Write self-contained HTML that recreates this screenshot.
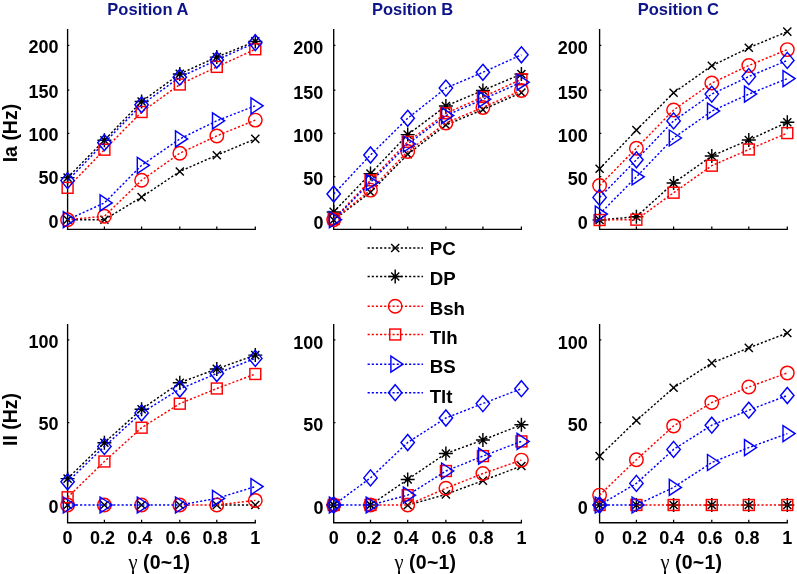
<!DOCTYPE html>
<html><head><meta charset="utf-8"><title>Figure</title>
<style>html,body{margin:0;padding:0;background:#fff}svg{display:block}.b{font-family:"Liberation Sans",Arial,Helvetica,sans-serif;font-weight:bold}.g{font-family:"Liberation Serif","DejaVu Serif",serif}</style></head>
<body>
<svg width="797" height="574" viewBox="0 0 797 574">
<rect width="797" height="574" fill="#fff"/>
<g id="plotA">
<path d="M67.60 29.00V229.40H255.90" stroke="#000" stroke-width="1.35" fill="none" stroke-linejoin="miter"/>
<path d="M104.40 229.40v-3.0M141.60 229.40v-3.0M179.80 229.40v-3.0M216.80 229.40v-3.0M255.30 229.40v-3.0M67.60 220.20h1.7M67.60 176.50h1.7M67.60 133.40h1.7M67.60 90.00h1.7M67.60 45.40h1.7" stroke="#000" stroke-width="1.25" fill="none"/>
<text x="58.5" y="227.8" text-anchor="end" font-size="18" class="b">0</text>
<text x="58.5" y="184.1" text-anchor="end" font-size="18" class="b">50</text>
<text x="58.5" y="141.0" text-anchor="end" font-size="18" class="b">100</text>
<text x="58.5" y="97.6" text-anchor="end" font-size="18" class="b">150</text>
<text x="58.5" y="53.0" text-anchor="end" font-size="18" class="b">200</text>
<g stroke-width="1.45" fill="none">
<polyline points="67.60,219.70 104.40,219.70 141.60,197.10 179.80,171.50 216.80,155.20 255.30,138.90" stroke="#000" stroke-dasharray="2.15 2"/>
<path d="M63.55 215.65L71.65 223.75M63.55 223.75L71.65 215.65" stroke="#000" fill="none"/>
<path d="M100.35 215.65L108.45 223.75M100.35 223.75L108.45 215.65" stroke="#000" fill="none"/>
<path d="M137.55 193.05L145.65 201.15M137.55 201.15L145.65 193.05" stroke="#000" fill="none"/>
<path d="M175.75 167.45L183.85 175.55M175.75 175.55L183.85 167.45" stroke="#000" fill="none"/>
<path d="M212.75 151.15L220.85 159.25M212.75 159.25L220.85 151.15" stroke="#000" fill="none"/>
<path d="M251.25 134.85L259.35 142.95M251.25 142.95L259.35 134.85" stroke="#000" fill="none"/>
<polyline points="67.60,177.60 104.40,140.20 141.60,101.50 179.80,73.90 216.80,57.10 255.30,41.40" stroke="#000" stroke-dasharray="2.15 2"/>
<path d="M63.55 173.55L71.65 181.65M63.55 181.65L71.65 173.55M60.6 177.6H74.6M67.6 170.6V184.6" stroke="#000" fill="none"/>
<path d="M100.35 136.15L108.45 144.25M100.35 144.25L108.45 136.15M97.4 140.2H111.4M104.4 133.2V147.2" stroke="#000" fill="none"/>
<path d="M137.55 97.45L145.65 105.55M137.55 105.55L145.65 97.45M134.6 101.5H148.6M141.6 94.5V108.5" stroke="#000" fill="none"/>
<path d="M175.75 69.85L183.85 77.95M175.75 77.95L183.85 69.85M172.8 73.9H186.8M179.8 66.9V80.9" stroke="#000" fill="none"/>
<path d="M212.75 53.05L220.85 61.15M212.75 61.15L220.85 53.05M209.8 57.1H223.8M216.8 50.1V64.1" stroke="#000" fill="none"/>
<path d="M251.25 37.35L259.35 45.45M251.25 45.45L259.35 37.35M248.3 41.4H262.3M255.3 34.4V48.4" stroke="#000" fill="none"/>
<polyline points="67.60,219.70 104.40,216.20 141.60,180.30 179.80,153.20 216.80,135.90 255.30,120.10" stroke="#f00" stroke-dasharray="2.15 2"/>
<circle cx="67.6" cy="219.7" r="6.75" stroke="#f00" fill="none"/>
<circle cx="104.4" cy="216.2" r="6.75" stroke="#f00" fill="none"/>
<circle cx="141.6" cy="180.3" r="6.75" stroke="#f00" fill="none"/>
<circle cx="179.8" cy="153.2" r="6.75" stroke="#f00" fill="none"/>
<circle cx="216.8" cy="135.9" r="6.75" stroke="#f00" fill="none"/>
<circle cx="255.3" cy="120.1" r="6.75" stroke="#f00" fill="none"/>
<polyline points="67.60,187.80 104.40,149.70 141.60,112.00 179.80,84.50 216.80,66.90 255.30,49.30" stroke="#f00" stroke-dasharray="2.15 2"/>
<rect x="62.15" y="182.35" width="10.9" height="10.9" stroke="#f00" fill="none"/>
<rect x="98.95" y="144.25" width="10.9" height="10.9" stroke="#f00" fill="none"/>
<rect x="136.15" y="106.55" width="10.9" height="10.9" stroke="#f00" fill="none"/>
<rect x="174.35" y="79.05" width="10.9" height="10.9" stroke="#f00" fill="none"/>
<rect x="211.35" y="61.45" width="10.9" height="10.9" stroke="#f00" fill="none"/>
<rect x="249.85" y="43.85" width="10.9" height="10.9" stroke="#f00" fill="none"/>
<polyline points="67.60,219.70 104.40,202.90 141.60,165.30 179.80,138.90 216.80,120.80 255.30,105.80" stroke="#00f" stroke-dasharray="2.15 2"/>
<path d="M63.3 211.7L75.4 219.7L63.3 227.7Z" stroke="#00f" fill="none"/>
<path d="M100.1 194.9L112.2 202.9L100.1 210.9Z" stroke="#00f" fill="none"/>
<path d="M137.3 157.3L149.4 165.3L137.3 173.3Z" stroke="#00f" fill="none"/>
<path d="M175.5 130.9L187.6 138.9L175.5 146.9Z" stroke="#00f" fill="none"/>
<path d="M212.5 112.8L224.6 120.8L212.5 128.8Z" stroke="#00f" fill="none"/>
<path d="M251 97.8L263.1 105.8L251 113.8Z" stroke="#00f" fill="none"/>
<polyline points="67.60,180.60 104.40,142.70 141.60,104.80 179.80,77.20 216.80,60.00 255.30,42.70" stroke="#00f" stroke-dasharray="2.15 2"/>
<path d="M67.6 172.6L74.3 180.6L67.6 188.6L60.9 180.6Z" stroke="#00f" fill="none"/>
<path d="M104.4 134.7L111.1 142.7L104.4 150.7L97.7 142.7Z" stroke="#00f" fill="none"/>
<path d="M141.6 96.8L148.3 104.8L141.6 112.8L134.9 104.8Z" stroke="#00f" fill="none"/>
<path d="M179.8 69.2L186.5 77.2L179.8 85.2L173.1 77.2Z" stroke="#00f" fill="none"/>
<path d="M216.8 52L223.5 60L216.8 68L210.1 60Z" stroke="#00f" fill="none"/>
<path d="M255.3 34.7L262 42.7L255.3 50.7L248.6 42.7Z" stroke="#00f" fill="none"/>
</g>
</g>
<g id="plotB">
<path d="M333.70 29.00V229.40H522.00" stroke="#000" stroke-width="1.35" fill="none" stroke-linejoin="miter"/>
<path d="M370.50 229.40v-3.0M407.70 229.40v-3.0M445.90 229.40v-3.0M482.90 229.40v-3.0M521.40 229.40v-3.0M333.70 220.20h1.7M333.70 176.50h1.7M333.70 133.40h1.7M333.70 90.00h1.7M333.70 45.40h1.7" stroke="#000" stroke-width="1.25" fill="none"/>
<text x="323.4" y="229.0" text-anchor="end" font-size="18" class="b">0</text>
<text x="323.4" y="185.3" text-anchor="end" font-size="18" class="b">50</text>
<text x="323.4" y="142.2" text-anchor="end" font-size="18" class="b">100</text>
<text x="323.4" y="98.8" text-anchor="end" font-size="18" class="b">150</text>
<text x="323.4" y="54.2" text-anchor="end" font-size="18" class="b">200</text>
<g stroke-width="1.45" fill="none">
<polyline points="333.70,220.00 370.50,192.30 407.70,154.30 445.90,125.00 482.90,109.60 521.40,92.60" stroke="#000" stroke-dasharray="2.15 2"/>
<path d="M329.65 215.95L337.75 224.05M329.65 224.05L337.75 215.95" stroke="#000" fill="none"/>
<path d="M366.45 188.25L374.55 196.35M366.45 196.35L374.55 188.25" stroke="#000" fill="none"/>
<path d="M403.65 150.25L411.75 158.35M403.65 158.35L411.75 150.25" stroke="#000" fill="none"/>
<path d="M441.85 120.95L449.95 129.05M441.85 129.05L449.95 120.95" stroke="#000" fill="none"/>
<path d="M478.85 105.55L486.95 113.65M478.85 113.65L486.95 105.55" stroke="#000" fill="none"/>
<path d="M517.35 88.55L525.45 96.65M517.35 96.65L525.45 88.55" stroke="#000" fill="none"/>
<polyline points="333.70,211.90 370.50,173.60 407.70,134.60 445.90,106.00 482.90,90.40 521.40,74.10" stroke="#000" stroke-dasharray="2.15 2"/>
<path d="M329.65 207.85L337.75 215.95M329.65 215.95L337.75 207.85M326.7 211.9H340.7M333.7 204.9V218.9" stroke="#000" fill="none"/>
<path d="M366.45 169.55L374.55 177.65M366.45 177.65L374.55 169.55M363.5 173.6H377.5M370.5 166.6V180.6" stroke="#000" fill="none"/>
<path d="M403.65 130.55L411.75 138.65M403.65 138.65L411.75 130.55M400.7 134.6H414.7M407.7 127.6V141.6" stroke="#000" fill="none"/>
<path d="M441.85 101.95L449.95 110.05M441.85 110.05L449.95 101.95M438.9 106H452.9M445.9 99V113" stroke="#000" fill="none"/>
<path d="M478.85 86.35L486.95 94.45M478.85 94.45L486.95 86.35M475.9 90.4H489.9M482.9 83.4V97.4" stroke="#000" fill="none"/>
<path d="M517.35 70.05L525.45 78.15M517.35 78.15L525.45 70.05M514.4 74.1H528.4M521.4 67.1V81.1" stroke="#000" fill="none"/>
<polyline points="333.70,219.70 370.50,190.10 407.70,151.50 445.90,123.00 482.90,107.40 521.40,90.40" stroke="#f00" stroke-dasharray="2.15 2"/>
<circle cx="333.7" cy="219.7" r="6.75" stroke="#f00" fill="none"/>
<circle cx="370.5" cy="190.1" r="6.75" stroke="#f00" fill="none"/>
<circle cx="407.7" cy="151.5" r="6.75" stroke="#f00" fill="none"/>
<circle cx="445.9" cy="123" r="6.75" stroke="#f00" fill="none"/>
<circle cx="482.9" cy="107.4" r="6.75" stroke="#f00" fill="none"/>
<circle cx="521.4" cy="90.4" r="6.75" stroke="#f00" fill="none"/>
<polyline points="333.70,219.00 370.50,180.30 407.70,141.80 445.90,113.30 482.90,97.00 521.40,79.30" stroke="#f00" stroke-dasharray="2.15 2"/>
<rect x="328.25" y="213.55" width="10.9" height="10.9" stroke="#f00" fill="none"/>
<rect x="365.05" y="174.85" width="10.9" height="10.9" stroke="#f00" fill="none"/>
<rect x="402.25" y="136.35" width="10.9" height="10.9" stroke="#f00" fill="none"/>
<rect x="440.45" y="107.85" width="10.9" height="10.9" stroke="#f00" fill="none"/>
<rect x="477.45" y="91.55" width="10.9" height="10.9" stroke="#f00" fill="none"/>
<rect x="515.95" y="73.85" width="10.9" height="10.9" stroke="#f00" fill="none"/>
<polyline points="333.70,219.70 370.50,182.40 407.70,144.00 445.90,115.60 482.90,99.30 521.40,82.20" stroke="#00f" stroke-dasharray="2.15 2"/>
<path d="M329.4 211.7L341.5 219.7L329.4 227.7Z" stroke="#00f" fill="none"/>
<path d="M366.2 174.4L378.3 182.4L366.2 190.4Z" stroke="#00f" fill="none"/>
<path d="M403.4 136L415.5 144L403.4 152Z" stroke="#00f" fill="none"/>
<path d="M441.6 107.6L453.7 115.6L441.6 123.6Z" stroke="#00f" fill="none"/>
<path d="M478.6 91.3L490.7 99.3L478.6 107.3Z" stroke="#00f" fill="none"/>
<path d="M517.1 74.2L529.2 82.2L517.1 90.2Z" stroke="#00f" fill="none"/>
<polyline points="333.70,194.00 370.50,155.00 407.70,118.30 445.90,88.10 482.90,72.30 521.40,54.80" stroke="#00f" stroke-dasharray="2.15 2"/>
<path d="M333.7 186L340.4 194L333.7 202L327 194Z" stroke="#00f" fill="none"/>
<path d="M370.5 147L377.2 155L370.5 163L363.8 155Z" stroke="#00f" fill="none"/>
<path d="M407.7 110.3L414.4 118.3L407.7 126.3L401 118.3Z" stroke="#00f" fill="none"/>
<path d="M445.9 80.1L452.6 88.1L445.9 96.1L439.2 88.1Z" stroke="#00f" fill="none"/>
<path d="M482.9 64.3L489.6 72.3L482.9 80.3L476.2 72.3Z" stroke="#00f" fill="none"/>
<path d="M521.4 46.8L528.1 54.8L521.4 62.8L514.7 54.8Z" stroke="#00f" fill="none"/>
</g>
</g>
<g id="plotC">
<path d="M599.60 29.00V229.40H787.90" stroke="#000" stroke-width="1.35" fill="none" stroke-linejoin="miter"/>
<path d="M636.40 229.40v-3.0M673.60 229.40v-3.0M711.80 229.40v-3.0M748.80 229.40v-3.0M787.30 229.40v-3.0M599.60 220.20h1.7M599.60 176.50h1.7M599.60 133.40h1.7M599.60 90.00h1.7M599.60 45.40h1.7" stroke="#000" stroke-width="1.25" fill="none"/>
<text x="587.8" y="229.0" text-anchor="end" font-size="18" class="b">0</text>
<text x="587.8" y="185.3" text-anchor="end" font-size="18" class="b">50</text>
<text x="587.8" y="142.2" text-anchor="end" font-size="18" class="b">100</text>
<text x="587.8" y="98.8" text-anchor="end" font-size="18" class="b">150</text>
<text x="587.8" y="54.2" text-anchor="end" font-size="18" class="b">200</text>
<g stroke-width="1.45" fill="none">
<polyline points="599.60,168.80 636.40,130.10 673.60,92.80 711.80,65.80 748.80,47.80 787.30,31.60" stroke="#000" stroke-dasharray="2.15 2"/>
<path d="M595.55 164.75L603.65 172.85M595.55 172.85L603.65 164.75" stroke="#000" fill="none"/>
<path d="M632.35 126.05L640.45 134.15M632.35 134.15L640.45 126.05" stroke="#000" fill="none"/>
<path d="M669.55 88.75L677.65 96.85M669.55 96.85L677.65 88.75" stroke="#000" fill="none"/>
<path d="M707.75 61.75L715.85 69.85M707.75 69.85L715.85 61.75" stroke="#000" fill="none"/>
<path d="M744.75 43.75L752.85 51.85M744.75 51.85L752.85 43.75" stroke="#000" fill="none"/>
<path d="M783.25 27.55L791.35 35.65M783.25 35.65L791.35 27.55" stroke="#000" fill="none"/>
<polyline points="599.60,220.00 636.40,216.70 673.60,183.00 711.80,156.00 748.80,140.00 787.30,122.20" stroke="#000" stroke-dasharray="2.15 2"/>
<path d="M595.55 215.95L603.65 224.05M595.55 224.05L603.65 215.95M592.6 220H606.6M599.6 213V227" stroke="#000" fill="none"/>
<path d="M632.35 212.65L640.45 220.75M632.35 220.75L640.45 212.65M629.4 216.7H643.4M636.4 209.7V223.7" stroke="#000" fill="none"/>
<path d="M669.55 178.95L677.65 187.05M669.55 187.05L677.65 178.95M666.6 183H680.6M673.6 176V190" stroke="#000" fill="none"/>
<path d="M707.75 151.95L715.85 160.05M707.75 160.05L715.85 151.95M704.8 156H718.8M711.8 149V163" stroke="#000" fill="none"/>
<path d="M744.75 135.95L752.85 144.05M744.75 144.05L752.85 135.95M741.8 140H755.8M748.8 133V147" stroke="#000" fill="none"/>
<path d="M783.25 118.15L791.35 126.25M783.25 126.25L791.35 118.15M780.3 122.2H794.3M787.3 115.2V129.2" stroke="#000" fill="none"/>
<polyline points="599.60,185.50 636.40,148.20 673.60,110.00 711.80,83.00 748.80,65.50 787.30,49.60" stroke="#f00" stroke-dasharray="2.15 2"/>
<circle cx="599.6" cy="185.5" r="6.75" stroke="#f00" fill="none"/>
<circle cx="636.4" cy="148.2" r="6.75" stroke="#f00" fill="none"/>
<circle cx="673.6" cy="110" r="6.75" stroke="#f00" fill="none"/>
<circle cx="711.8" cy="83" r="6.75" stroke="#f00" fill="none"/>
<circle cx="748.8" cy="65.5" r="6.75" stroke="#f00" fill="none"/>
<circle cx="787.3" cy="49.6" r="6.75" stroke="#f00" fill="none"/>
<polyline points="599.60,220.00 636.40,219.70 673.60,192.70 711.80,165.70 748.80,149.50 787.30,133.10" stroke="#f00" stroke-dasharray="2.15 2"/>
<rect x="594.15" y="214.55" width="10.9" height="10.9" stroke="#f00" fill="none"/>
<rect x="630.95" y="214.25" width="10.9" height="10.9" stroke="#f00" fill="none"/>
<rect x="668.15" y="187.25" width="10.9" height="10.9" stroke="#f00" fill="none"/>
<rect x="706.35" y="160.25" width="10.9" height="10.9" stroke="#f00" fill="none"/>
<rect x="743.35" y="144.05" width="10.9" height="10.9" stroke="#f00" fill="none"/>
<rect x="781.85" y="127.65" width="10.9" height="10.9" stroke="#f00" fill="none"/>
<polyline points="599.60,214.10 636.40,176.80 673.60,138.00 711.80,111.10 748.80,94.10 787.30,78.60" stroke="#00f" stroke-dasharray="2.15 2"/>
<path d="M595.3 206.1L607.4 214.1L595.3 222.1Z" stroke="#00f" fill="none"/>
<path d="M632.1 168.8L644.2 176.8L632.1 184.8Z" stroke="#00f" fill="none"/>
<path d="M669.3 130L681.4 138L669.3 146Z" stroke="#00f" fill="none"/>
<path d="M707.5 103.1L719.6 111.1L707.5 119.1Z" stroke="#00f" fill="none"/>
<path d="M744.5 86.1L756.6 94.1L744.5 102.1Z" stroke="#00f" fill="none"/>
<path d="M783 70.6L795.1 78.6L783 86.6Z" stroke="#00f" fill="none"/>
<polyline points="599.60,197.40 636.40,159.80 673.60,120.90 711.80,94.10 748.80,76.60 787.30,60.40" stroke="#00f" stroke-dasharray="2.15 2"/>
<path d="M599.6 189.4L606.3 197.4L599.6 205.4L592.9 197.4Z" stroke="#00f" fill="none"/>
<path d="M636.4 151.8L643.1 159.8L636.4 167.8L629.7 159.8Z" stroke="#00f" fill="none"/>
<path d="M673.6 112.9L680.3 120.9L673.6 128.9L666.9 120.9Z" stroke="#00f" fill="none"/>
<path d="M711.8 86.1L718.5 94.1L711.8 102.1L705.1 94.1Z" stroke="#00f" fill="none"/>
<path d="M748.8 68.6L755.5 76.6L748.8 84.6L742.1 76.6Z" stroke="#00f" fill="none"/>
<path d="M787.3 52.4L794 60.4L787.3 68.4L780.6 60.4Z" stroke="#00f" fill="none"/>
</g>
</g>
<g id="plotD">
<path d="M67.60 323.90V522.75H255.90" stroke="#000" stroke-width="1.35" fill="none" stroke-linejoin="miter"/>
<path d="M104.40 522.75v-3.0M141.60 522.75v-3.0M179.80 522.75v-3.0M216.80 522.75v-3.0M255.30 522.75v-3.0M67.60 505.00h1.7M67.60 422.50h1.7M67.60 339.90h1.7" stroke="#000" stroke-width="1.25" fill="none"/>
<text x="58.5" y="512.6" text-anchor="end" font-size="18" class="b">0</text>
<text x="58.5" y="430.1" text-anchor="end" font-size="18" class="b">50</text>
<text x="58.5" y="347.5" text-anchor="end" font-size="18" class="b">100</text>
<g stroke-width="1.45" fill="none">
<polyline points="216.80,505.00 255.30,505.00" stroke="#000" stroke-dasharray="2.15 2" stroke-dashoffset="3.95"/>
<path d="M63.55 500.95L71.65 509.05M63.55 509.05L71.65 500.95" stroke="#000" fill="none"/>
<path d="M100.35 500.95L108.45 509.05M100.35 509.05L108.45 500.95" stroke="#000" fill="none"/>
<path d="M137.55 500.95L145.65 509.05M137.55 509.05L145.65 500.95" stroke="#000" fill="none"/>
<path d="M175.75 500.95L183.85 509.05M175.75 509.05L183.85 500.95" stroke="#000" fill="none"/>
<path d="M212.75 500.95L220.85 509.05M212.75 509.05L220.85 500.95" stroke="#000" fill="none"/>
<path d="M251.25 500.95L259.35 509.05M251.25 509.05L259.35 500.95" stroke="#000" fill="none"/>
<polyline points="67.60,478.60 104.40,442.70 141.60,409.20 179.80,382.70 216.80,368.90 255.30,355.10" stroke="#000" stroke-dasharray="2.15 2"/>
<path d="M63.55 474.55L71.65 482.65M63.55 482.65L71.65 474.55M60.6 478.6H74.6M67.6 471.6V485.6" stroke="#000" fill="none"/>
<path d="M100.35 438.65L108.45 446.75M100.35 446.75L108.45 438.65M97.4 442.7H111.4M104.4 435.7V449.7" stroke="#000" fill="none"/>
<path d="M137.55 405.15L145.65 413.25M137.55 413.25L145.65 405.15M134.6 409.2H148.6M141.6 402.2V416.2" stroke="#000" fill="none"/>
<path d="M175.75 378.65L183.85 386.75M175.75 386.75L183.85 378.65M172.8 382.7H186.8M179.8 375.7V389.7" stroke="#000" fill="none"/>
<path d="M212.75 364.85L220.85 372.95M212.75 372.95L220.85 364.85M209.8 368.9H223.8M216.8 361.9V375.9" stroke="#000" fill="none"/>
<path d="M251.25 351.05L259.35 359.15M251.25 359.15L259.35 351.05M248.3 355.1H262.3M255.3 348.1V362.1" stroke="#000" fill="none"/>
<polyline points="179.80,505.00 216.80,505.00 255.30,500.40" stroke="#f00" stroke-dasharray="2.15 2" stroke-dashoffset="0.15"/>
<circle cx="67.6" cy="505" r="6.75" stroke="#f00" fill="none"/>
<circle cx="104.4" cy="505" r="6.75" stroke="#f00" fill="none"/>
<circle cx="141.6" cy="505" r="6.75" stroke="#f00" fill="none"/>
<circle cx="179.8" cy="505" r="6.75" stroke="#f00" fill="none"/>
<circle cx="216.8" cy="505" r="6.75" stroke="#f00" fill="none"/>
<circle cx="255.3" cy="500.4" r="6.75" stroke="#f00" fill="none"/>
<polyline points="67.60,497.30 104.40,461.50 141.60,427.70 179.80,403.70 216.80,388.50 255.30,374.00" stroke="#f00" stroke-dasharray="2.15 2"/>
<rect x="62.15" y="491.85" width="10.9" height="10.9" stroke="#f00" fill="none"/>
<rect x="98.95" y="456.05" width="10.9" height="10.9" stroke="#f00" fill="none"/>
<rect x="136.15" y="422.25" width="10.9" height="10.9" stroke="#f00" fill="none"/>
<rect x="174.35" y="398.25" width="10.9" height="10.9" stroke="#f00" fill="none"/>
<rect x="211.35" y="383.05" width="10.9" height="10.9" stroke="#f00" fill="none"/>
<rect x="249.85" y="368.55" width="10.9" height="10.9" stroke="#f00" fill="none"/>
<polyline points="67.60,505.00 104.40,505.00 141.60,505.00 179.80,505.00 216.80,498.40 255.30,486.60" stroke="#00f" stroke-dasharray="2.15 2"/>
<path d="M63.3 497L75.4 505L63.3 513Z" stroke="#00f" fill="none"/>
<path d="M100.1 497L112.2 505L100.1 513Z" stroke="#00f" fill="none"/>
<path d="M137.3 497L149.4 505L137.3 513Z" stroke="#00f" fill="none"/>
<path d="M175.5 497L187.6 505L175.5 513Z" stroke="#00f" fill="none"/>
<path d="M212.5 490.4L224.6 498.4L212.5 506.4Z" stroke="#00f" fill="none"/>
<path d="M251 478.6L263.1 486.6L251 494.6Z" stroke="#00f" fill="none"/>
<polyline points="67.60,481.80 104.40,446.40 141.60,412.90 179.80,389.00 216.80,373.50 255.30,358.40" stroke="#00f" stroke-dasharray="2.15 2"/>
<path d="M67.6 473.8L74.3 481.8L67.6 489.8L60.9 481.8Z" stroke="#00f" fill="none"/>
<path d="M104.4 438.4L111.1 446.4L104.4 454.4L97.7 446.4Z" stroke="#00f" fill="none"/>
<path d="M141.6 404.9L148.3 412.9L141.6 420.9L134.9 412.9Z" stroke="#00f" fill="none"/>
<path d="M179.8 381L186.5 389L179.8 397L173.1 389Z" stroke="#00f" fill="none"/>
<path d="M216.8 365.5L223.5 373.5L216.8 381.5L210.1 373.5Z" stroke="#00f" fill="none"/>
<path d="M255.3 350.4L262 358.4L255.3 366.4L248.6 358.4Z" stroke="#00f" fill="none"/>
</g>
<text x="67.6" y="544.0" text-anchor="middle" font-size="18" class="b">0</text>
<text x="102.6" y="544.0" text-anchor="middle" font-size="18" class="b">0.2</text>
<text x="139.8" y="544.0" text-anchor="middle" font-size="18" class="b">0.4</text>
<text x="178.0" y="544.0" text-anchor="middle" font-size="18" class="b">0.6</text>
<text x="215.0" y="544.0" text-anchor="middle" font-size="18" class="b">0.8</text>
<text x="255.3" y="544.0" text-anchor="middle" font-size="18" class="b">1</text>
<text x="128.5" y="568.7" font-size="20.5" class="g">γ</text>
<text x="143.0" y="568.8" font-size="19.5" textLength="47.0" lengthAdjust="spacing" class="b">(0~1)</text>
</g>
<g id="plotE">
<path d="M333.70 323.90V522.75H522.00" stroke="#000" stroke-width="1.35" fill="none" stroke-linejoin="miter"/>
<path d="M370.50 522.75v-3.0M407.70 522.75v-3.0M445.90 522.75v-3.0M482.90 522.75v-3.0M521.40 522.75v-3.0M333.70 505.00h1.7M333.70 422.50h1.7M333.70 339.90h1.7" stroke="#000" stroke-width="1.25" fill="none"/>
<text x="323.4" y="513.8" text-anchor="end" font-size="18" class="b">0</text>
<text x="323.4" y="431.3" text-anchor="end" font-size="18" class="b">50</text>
<text x="323.4" y="348.7" text-anchor="end" font-size="18" class="b">100</text>
<g stroke-width="1.45" fill="none">
<polyline points="407.70,505.20 445.90,494.40 482.90,480.60 521.40,466.00" stroke="#000" stroke-dasharray="2.15 2" stroke-dashoffset="3.45"/>
<path d="M329.65 500.95L337.75 509.05M329.65 509.05L337.75 500.95" stroke="#000" fill="none"/>
<path d="M366.45 500.95L374.55 509.05M366.45 509.05L374.55 500.95" stroke="#000" fill="none"/>
<path d="M403.65 501.15L411.75 509.25M403.65 509.25L411.75 501.15" stroke="#000" fill="none"/>
<path d="M441.85 490.35L449.95 498.45M441.85 498.45L449.95 490.35" stroke="#000" fill="none"/>
<path d="M478.85 476.55L486.95 484.65M478.85 484.65L486.95 476.55" stroke="#000" fill="none"/>
<path d="M517.35 461.95L525.45 470.05M517.35 470.05L525.45 461.95" stroke="#000" fill="none"/>
<polyline points="370.50,505.00 407.70,479.40 445.90,453.50 482.90,440.00 521.40,424.80" stroke="#000" stroke-dasharray="2.15 2" stroke-dashoffset="3.60"/>
<path d="M329.65 500.95L337.75 509.05M329.65 509.05L337.75 500.95M326.7 505H340.7M333.7 498V512" stroke="#000" fill="none"/>
<path d="M366.45 500.95L374.55 509.05M366.45 509.05L374.55 500.95M363.5 505H377.5M370.5 498V512" stroke="#000" fill="none"/>
<path d="M403.65 475.35L411.75 483.45M403.65 483.45L411.75 475.35M400.7 479.4H414.7M407.7 472.4V486.4" stroke="#000" fill="none"/>
<path d="M441.85 449.45L449.95 457.55M441.85 457.55L449.95 449.45M438.9 453.5H452.9M445.9 446.5V460.5" stroke="#000" fill="none"/>
<path d="M478.85 435.95L486.95 444.05M478.85 444.05L486.95 435.95M475.9 440H489.9M482.9 433V447" stroke="#000" fill="none"/>
<path d="M517.35 420.75L525.45 428.85M517.35 428.85L525.45 420.75M514.4 424.8H528.4M521.4 417.8V431.8" stroke="#000" fill="none"/>
<polyline points="370.50,505.00 407.70,505.00 445.90,488.30 482.90,473.50 521.40,460.10" stroke="#f00" stroke-dasharray="2.15 2" stroke-dashoffset="3.60"/>
<circle cx="333.7" cy="505" r="6.75" stroke="#f00" fill="none"/>
<circle cx="370.5" cy="505" r="6.75" stroke="#f00" fill="none"/>
<circle cx="407.7" cy="505" r="6.75" stroke="#f00" fill="none"/>
<circle cx="445.9" cy="488.3" r="6.75" stroke="#f00" fill="none"/>
<circle cx="482.9" cy="473.5" r="6.75" stroke="#f00" fill="none"/>
<circle cx="521.4" cy="460.1" r="6.75" stroke="#f00" fill="none"/>
<rect x="328.25" y="499.55" width="10.9" height="10.9" stroke="#f00" fill="none"/>
<rect x="365.05" y="499.55" width="10.9" height="10.9" stroke="#f00" fill="none"/>
<rect x="402.25" y="489.75" width="10.9" height="10.9" stroke="#f00" fill="none"/>
<rect x="440.45" y="465.55" width="10.9" height="10.9" stroke="#f00" fill="none"/>
<rect x="477.45" y="450.65" width="10.9" height="10.9" stroke="#f00" fill="none"/>
<rect x="515.95" y="435.95" width="10.9" height="10.9" stroke="#f00" fill="none"/>
<polyline points="333.70,505.00 370.50,505.00 407.70,495.20 445.90,471.00 482.90,456.10 521.40,441.40" stroke="#00f" stroke-dasharray="2.15 2"/>
<path d="M329.4 497L341.5 505L329.4 513Z" stroke="#00f" fill="none"/>
<path d="M366.2 497L378.3 505L366.2 513Z" stroke="#00f" fill="none"/>
<path d="M403.4 487.2L415.5 495.2L403.4 503.2Z" stroke="#00f" fill="none"/>
<path d="M441.6 463L453.7 471L441.6 479Z" stroke="#00f" fill="none"/>
<path d="M478.6 448.1L490.7 456.1L478.6 464.1Z" stroke="#00f" fill="none"/>
<path d="M517.1 433.4L529.2 441.4L517.1 449.4Z" stroke="#00f" fill="none"/>
<polyline points="333.70,505.00 370.50,477.90 407.70,442.50 445.90,418.00 482.90,403.60 521.40,388.70" stroke="#00f" stroke-dasharray="2.15 2"/>
<path d="M333.7 497L340.4 505L333.7 513L327 505Z" stroke="#00f" fill="none"/>
<path d="M370.5 469.9L377.2 477.9L370.5 485.9L363.8 477.9Z" stroke="#00f" fill="none"/>
<path d="M407.7 434.5L414.4 442.5L407.7 450.5L401 442.5Z" stroke="#00f" fill="none"/>
<path d="M445.9 410L452.6 418L445.9 426L439.2 418Z" stroke="#00f" fill="none"/>
<path d="M482.9 395.6L489.6 403.6L482.9 411.6L476.2 403.6Z" stroke="#00f" fill="none"/>
<path d="M521.4 380.7L528.1 388.7L521.4 396.7L514.7 388.7Z" stroke="#00f" fill="none"/>
</g>
<text x="333.7" y="544.0" text-anchor="middle" font-size="18" class="b">0</text>
<text x="368.7" y="544.0" text-anchor="middle" font-size="18" class="b">0.2</text>
<text x="405.9" y="544.0" text-anchor="middle" font-size="18" class="b">0.4</text>
<text x="444.1" y="544.0" text-anchor="middle" font-size="18" class="b">0.6</text>
<text x="481.1" y="544.0" text-anchor="middle" font-size="18" class="b">0.8</text>
<text x="521.4" y="544.0" text-anchor="middle" font-size="18" class="b">1</text>
<text x="394.6" y="568.7" font-size="20.5" class="g">γ</text>
<text x="409.1" y="568.8" font-size="19.5" textLength="47.0" lengthAdjust="spacing" class="b">(0~1)</text>
</g>
<g id="plotF">
<path d="M599.60 323.90V522.75H787.90" stroke="#000" stroke-width="1.35" fill="none" stroke-linejoin="miter"/>
<path d="M636.40 522.75v-3.0M673.60 522.75v-3.0M711.80 522.75v-3.0M748.80 522.75v-3.0M787.30 522.75v-3.0M599.60 505.00h1.7M599.60 422.50h1.7M599.60 339.90h1.7" stroke="#000" stroke-width="1.25" fill="none"/>
<text x="587.8" y="513.8" text-anchor="end" font-size="18" class="b">0</text>
<text x="587.8" y="431.3" text-anchor="end" font-size="18" class="b">50</text>
<text x="587.8" y="348.7" text-anchor="end" font-size="18" class="b">100</text>
<g stroke-width="1.45" fill="none">
<polyline points="599.60,456.10 636.40,420.50 673.60,387.80 711.80,363.10 748.80,347.90 787.30,333.00" stroke="#000" stroke-dasharray="2.15 2"/>
<path d="M595.55 452.05L603.65 460.15M595.55 460.15L603.65 452.05" stroke="#000" fill="none"/>
<path d="M632.35 416.45L640.45 424.55M632.35 424.55L640.45 416.45" stroke="#000" fill="none"/>
<path d="M669.55 383.75L677.65 391.85M669.55 391.85L677.65 383.75" stroke="#000" fill="none"/>
<path d="M707.75 359.05L715.85 367.15M707.75 367.15L715.85 359.05" stroke="#000" fill="none"/>
<path d="M744.75 343.85L752.85 351.95M744.75 351.95L752.85 343.85" stroke="#000" fill="none"/>
<path d="M783.25 328.95L791.35 337.05M783.25 337.05L791.35 328.95" stroke="#000" fill="none"/>
<path d="M595.55 500.95L603.65 509.05M595.55 509.05L603.65 500.95M592.6 505H606.6M599.6 498V512" stroke="#000" fill="none"/>
<path d="M632.35 500.95L640.45 509.05M632.35 509.05L640.45 500.95M629.4 505H643.4M636.4 498V512" stroke="#000" fill="none"/>
<path d="M669.55 500.95L677.65 509.05M669.55 509.05L677.65 500.95M666.6 505H680.6M673.6 498V512" stroke="#000" fill="none"/>
<path d="M707.75 500.95L715.85 509.05M707.75 509.05L715.85 500.95M704.8 505H718.8M711.8 498V512" stroke="#000" fill="none"/>
<path d="M744.75 500.95L752.85 509.05M744.75 509.05L752.85 500.95M741.8 505H755.8M748.8 498V512" stroke="#000" fill="none"/>
<path d="M783.25 500.95L791.35 509.05M783.25 509.05L791.35 500.95M780.3 505H794.3M787.3 498V512" stroke="#000" fill="none"/>
<polyline points="599.60,495.10 636.40,459.70 673.60,425.90 711.80,402.50 748.80,387.00 787.30,372.90" stroke="#f00" stroke-dasharray="2.15 2"/>
<circle cx="599.6" cy="495.1" r="6.75" stroke="#f00" fill="none"/>
<circle cx="636.4" cy="459.7" r="6.75" stroke="#f00" fill="none"/>
<circle cx="673.6" cy="425.9" r="6.75" stroke="#f00" fill="none"/>
<circle cx="711.8" cy="402.5" r="6.75" stroke="#f00" fill="none"/>
<circle cx="748.8" cy="387" r="6.75" stroke="#f00" fill="none"/>
<circle cx="787.3" cy="372.9" r="6.75" stroke="#f00" fill="none"/>
<polyline points="636.40,505.00 673.60,505.00 711.80,505.00 748.80,505.00 787.30,505.00" stroke="#f00" stroke-dasharray="2.15 2" stroke-dashoffset="3.60"/>
<rect x="594.15" y="499.55" width="10.9" height="10.9" stroke="#f00" fill="none"/>
<rect x="630.95" y="499.55" width="10.9" height="10.9" stroke="#f00" fill="none"/>
<rect x="668.15" y="499.55" width="10.9" height="10.9" stroke="#f00" fill="none"/>
<rect x="706.35" y="499.55" width="10.9" height="10.9" stroke="#f00" fill="none"/>
<rect x="743.35" y="499.55" width="10.9" height="10.9" stroke="#f00" fill="none"/>
<rect x="781.85" y="499.55" width="10.9" height="10.9" stroke="#f00" fill="none"/>
<polyline points="599.60,505.00 636.40,505.00 673.60,487.40 711.80,462.50 748.80,447.60 787.30,433.60" stroke="#00f" stroke-dasharray="2.15 2"/>
<path d="M595.3 497L607.4 505L595.3 513Z" stroke="#00f" fill="none"/>
<path d="M632.1 497L644.2 505L632.1 513Z" stroke="#00f" fill="none"/>
<path d="M669.3 479.4L681.4 487.4L669.3 495.4Z" stroke="#00f" fill="none"/>
<path d="M707.5 454.5L719.6 462.5L707.5 470.5Z" stroke="#00f" fill="none"/>
<path d="M744.5 439.6L756.6 447.6L744.5 455.6Z" stroke="#00f" fill="none"/>
<path d="M783 425.6L795.1 433.6L783 441.6Z" stroke="#00f" fill="none"/>
<polyline points="599.60,505.00 636.40,483.40 673.60,449.40 711.80,425.20 748.80,410.20 787.30,395.50" stroke="#00f" stroke-dasharray="2.15 2"/>
<path d="M599.6 497L606.3 505L599.6 513L592.9 505Z" stroke="#00f" fill="none"/>
<path d="M636.4 475.4L643.1 483.4L636.4 491.4L629.7 483.4Z" stroke="#00f" fill="none"/>
<path d="M673.6 441.4L680.3 449.4L673.6 457.4L666.9 449.4Z" stroke="#00f" fill="none"/>
<path d="M711.8 417.2L718.5 425.2L711.8 433.2L705.1 425.2Z" stroke="#00f" fill="none"/>
<path d="M748.8 402.2L755.5 410.2L748.8 418.2L742.1 410.2Z" stroke="#00f" fill="none"/>
<path d="M787.3 387.5L794 395.5L787.3 403.5L780.6 395.5Z" stroke="#00f" fill="none"/>
</g>
<text x="599.6" y="544.0" text-anchor="middle" font-size="18" class="b">0</text>
<text x="634.6" y="544.0" text-anchor="middle" font-size="18" class="b">0.2</text>
<text x="671.8" y="544.0" text-anchor="middle" font-size="18" class="b">0.4</text>
<text x="710.0" y="544.0" text-anchor="middle" font-size="18" class="b">0.6</text>
<text x="747.0" y="544.0" text-anchor="middle" font-size="18" class="b">0.8</text>
<text x="787.3" y="544.0" text-anchor="middle" font-size="18" class="b">1</text>
<text x="660.5" y="568.7" font-size="20.5" class="g">γ</text>
<text x="675.0" y="568.8" font-size="19.5" textLength="47.0" lengthAdjust="spacing" class="b">(0~1)</text>
</g>
<text x="107.3" y="14.9" font-size="16.5" fill="#0d1488" textLength="81.2" lengthAdjust="spacing" class="b">Position A</text>
<text x="372.0" y="14.9" font-size="16.5" fill="#0d1488" textLength="81.2" lengthAdjust="spacing" class="b">Position B</text>
<text x="637.8" y="14.9" font-size="16.5" fill="#0d1488" textLength="81.2" lengthAdjust="spacing" class="b">Position C</text>
<text transform="translate(16.9,162.3) rotate(-90)" font-size="19.5" class="b">Ia (Hz)</text>
<text transform="translate(16.9,446.0) rotate(-90)" font-size="19.5" class="b">II (Hz)</text>
<g id="legend" stroke-width="1.45" fill="none">
<path d="M367.6 248.0H423" stroke="#000" stroke-dasharray="2.15 2"/>
<path d="M391.15 243.95L399.25 252.05M391.15 252.05L399.25 243.95" stroke="#000" fill="none"/>
<path d="M367.6 276.5H423" stroke="#000" stroke-dasharray="2.15 2"/>
<path d="M391.15 272.45L399.25 280.55M391.15 280.55L399.25 272.45M388.2 276.5H402.2M395.2 269.5V283.5" stroke="#000" fill="none"/>
<path d="M367.6 306.3H423" stroke="#f00" stroke-dasharray="2.15 2"/>
<circle cx="395.2" cy="306.3" r="6.75" stroke="#f00" fill="none"/>
<path d="M367.6 334.5H423" stroke="#f00" stroke-dasharray="2.15 2"/>
<rect x="389.75" y="329.05" width="10.9" height="10.9" stroke="#f00" fill="none"/>
<path d="M367.6 364.2H423" stroke="#00f" stroke-dasharray="2.15 2"/>
<path d="M390.9 356.2L403 364.2L390.9 372.2Z" stroke="#00f" fill="none"/>
<path d="M367.6 392.7H423" stroke="#00f" stroke-dasharray="2.15 2"/>
<path d="M395.2 384.7L401.9 392.7L395.2 400.7L388.5 392.7Z" stroke="#00f" fill="none"/>
</g>
<text x="429.7" y="254.9" font-size="18.7" class="b">PC</text>
<text x="429.7" y="285.4" font-size="18.7" class="b">DP</text>
<text x="429.7" y="314.9" font-size="18.7" class="b">Bsh</text>
<text x="429.7" y="343.5" font-size="18.7" class="b">Tlh</text>
<text x="429.7" y="373.3" font-size="18.7" class="b">BS</text>
<text x="429.7" y="402.9" font-size="18.7" class="b">Tlt</text>
</svg>
</body></html>
